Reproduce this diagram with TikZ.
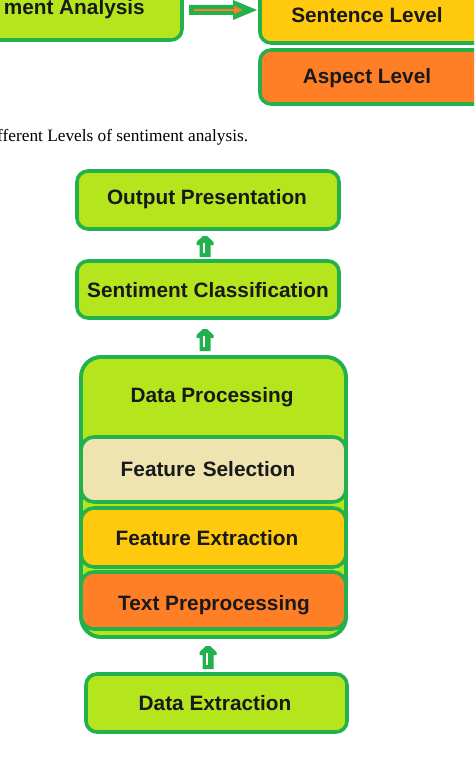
\documentclass[tikz,border=0pt]{standalone}
\usepackage{fontspec}
\setmainfont{Liberation Sans}
\newfontfamily\capfont{Liberation Serif}
\begin{document}
\begin{tikzpicture}[x=1pt,y=-1pt,
  box/.style={draw=gr, line width=3.6pt, rounded corners=11pt},
  lbl/.style={font=\fontsize{20.8}{22}\selectfont\bfseries, text=black!90, inner sep=0pt},
  uparrow/.style={fill=gr, draw=none}]
\definecolor{gr}{HTML}{22B14C}
\definecolor{lime}{HTML}{B5E61D}
\definecolor{yel}{HTML}{FFC90E}
\definecolor{ora}{HTML}{FF7F27}
\definecolor{bei}{HTML}{EFE4B0}
\useasboundingbox (0,0) rectangle (474,760);
\clip (0,0) rectangle (474,760);
% top row
\filldraw[box, fill=lime] (-40,-20) rectangle (182,40);
\node[lbl, anchor=east] (sa) at (145,9) {ment Analysis};
\filldraw[box, fill=yel] (260,-20) rectangle (500,43);
\node[lbl] (sl) at (367,15) {Sentence Level};
\filldraw[box, fill=ora] (260,50) rectangle (500,104);
\node[lbl] (al) at (367,78) {Aspect Level};
% right block arrow
\fill[gr] (189,5) -- (233,5) -- (233,0) -- (257,10) -- (233,20) -- (233,15) -- (189,15) -- cycle;
\draw[ora, line width=2.2pt] (194,10) -- (236,10);
\fill[ora] (234,6) -- (243,10) -- (234,14) -- cycle;
% caption
\node[font=\capfont\fontsize{17.3}{18}\selectfont, anchor=base west, inner sep=0pt] (cap) at (-3,141) {fferent Levels of sentiment analysis.};
% pipeline boxes
\filldraw[box, fill=lime] (77,171) rectangle (339,229);
\node[lbl] (op) at (207,199) {Output Presentation};
\filldraw[box, fill=lime] (77,261) rectangle (339,318);
\node[lbl] (sc) at (208,290) {Sentiment Classification};
% container
\filldraw[draw=gr, line width=3.6pt, fill=lime, rounded corners=20pt] (81,357) rectangle (346,637);
\node[lbl] (dp) at (212,397) {Data Processing};
\filldraw[box, fill=bei, rounded corners=13pt] (81,437) rectangle (346,502);
\node[lbl] (fs) at (208,469) {Feature\,\,Selection};
\filldraw[box, fill=yel, rounded corners=13pt] (81,508) rectangle (346,567);
\node[lbl] (fe) at (207,538) {Feature Extraction};
\filldraw[box, fill=ora, rounded corners=13pt] (81,572) rectangle (346,629);
\node[lbl] (tp) at (214,605) {Text Preprocessing};
\draw[gr, line width=3.6pt, rounded corners=20pt] (81,357) rectangle (346,637);
% data extraction
\filldraw[box, fill=lime] (86,674) rectangle (347,732);
\node[lbl] (de) at (215,703) {Data Extraction};
% up arrows
\foreach \cx/\yt/\yb in {205/235/257, 205/328/351, 208/645/669}{
  \fill[gr] (\cx-5.5,\yb) -- (\cx-5.5,\yt+10) -- (\cx-8.5,\yt+10) -- (\cx-8.5,\yt+7) -- (\cx-2,\yt+1) -- (\cx+2,\yt+1) -- (\cx+8.5,\yt+7) -- (\cx+8.5,\yt+10) -- (\cx+5.5,\yt+10) -- (\cx+5.5,\yb) -- cycle;
  \draw[white, line width=1.2pt] (\cx-1,\yt+8) -- (\cx-1,\yb-4);
}
\end{tikzpicture}
\end{document}
